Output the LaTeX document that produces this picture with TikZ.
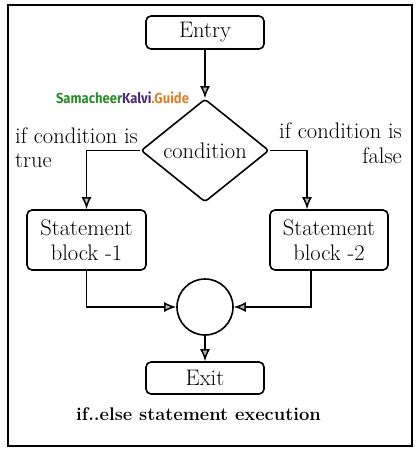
\documentclass[tikz,border=0pt]{standalone}
\usepackage{fontspec}
\newfontfamily\wmfont{Fira Sans}
\usetikzlibrary{shapes.geometric,arrows.meta}
\definecolor{wmgreen}{HTML}{2E8B2E}
\definecolor{wmpurple}{HTML}{4B2C7A}
\definecolor{wmorange}{HTML}{D9822B}
\begin{document}
\begin{tikzpicture}[x=1pt,y=-1pt,
  every node/.style={font=\fontsize{22.5}{25}\selectfont},
  box/.style={draw, line width=1.6pt, rounded corners=5pt, align=center, inner sep=0pt},
  conn/.style={line width=1.5pt},
  arr/.style={conn, -{Latex[length=12pt,width=10pt,fill=gray!55]}},
  lbl/.style={align=left, inner sep=0pt}]
\useasboundingbox (0,0) rectangle (420,455);
\draw[line width=1.6pt] (8,5) rectangle (412,446);
\node[box, minimum width=118pt, minimum height=33pt] (entry) at (205,32.5) {Entry};
\node[draw, line width=1.6pt, diamond, rounded corners=3pt, minimum width=128pt, minimum height=103pt, inner sep=0pt] (cond) at (205,150.5) {};
\node at (cond) {condition};
\node[box, minimum width=119pt, minimum height=60pt] (b1) at (86.5,240) {Statement\\block -1};
\node[box, minimum width=118pt, minimum height=60pt] (b2) at (329,240) {Statement\\block -2};
\node[draw, circle, line width=1.6pt, minimum size=56pt, inner sep=0pt] (circ) at (205,307) {};
\node[box, minimum width=118pt, minimum height=32pt] (exit) at (205,378) {Exit};
\node[anchor=base west, lbl] (lt1) at (15,143) {if condition is};
\node[anchor=base west, lbl] (lt2) at (15,167) {true};
\node[anchor=base east, lbl] (lf1) at (402,138) {if condition is};
\node[anchor=base east, lbl] (lf2) at (402,163) {false};
\node[font=\fontsize{18.3}{20}\selectfont\bfseries] (cap) at (198.5,414) {if..else statement execution};
\node[font=\wmfont\bfseries\fontsize{14.5}{15}\selectfont, inner sep=0pt] (wm) at (122.5,98) {\scalebox{0.9}[1]{\textcolor{wmgreen}{Samacheer}\textcolor{wmpurple}{Kalvi}\textcolor{wmorange}{.Guide}}};
\coordinate (b2in) at ([xshift=-22pt]b2.north);
\coordinate (b2out) at ([xshift=-18pt]b2.south);
\draw[arr] (entry) -- (cond);
\draw[arr] (cond.west) -| (b1.north);
\draw[arr] (cond.east) -| (b2in);
\draw[arr] (b1.south) |- (circ.west);
\draw[arr] (b2out) |- (circ.east);
\draw[arr] (circ) -- (exit);
\end{tikzpicture}
\end{document}
